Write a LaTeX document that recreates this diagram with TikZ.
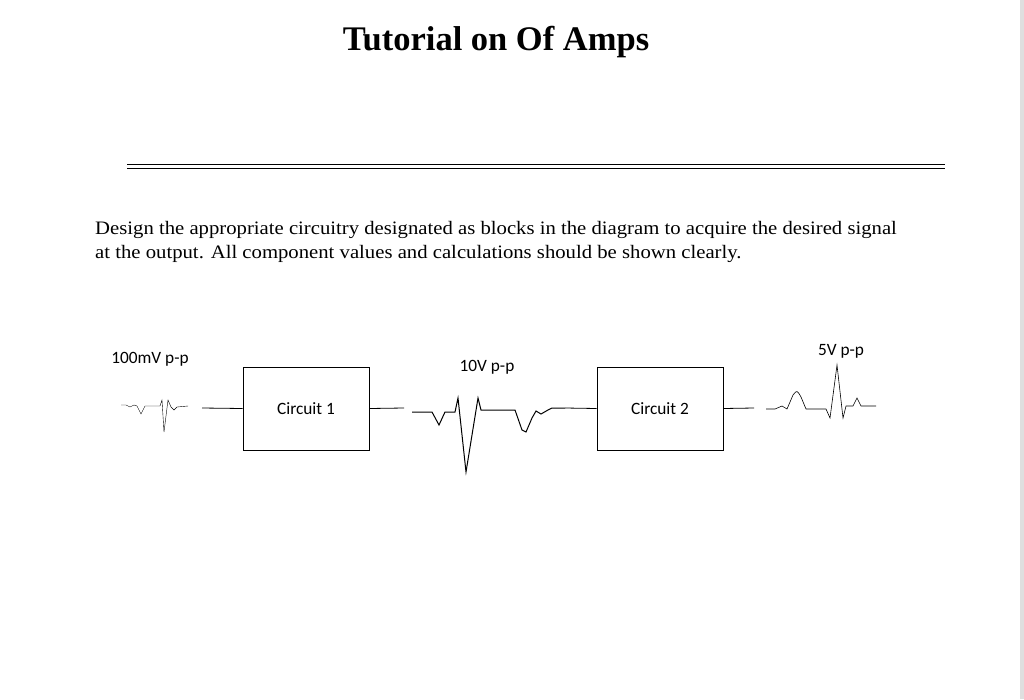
\documentclass[tikz,border=0pt]{standalone}
\usepackage{fontspec}
\setmainfont{Liberation Serif}
\newfontfamily\bodyf[FakeStretch=1.09]{Liberation Serif}
\newfontfamily\lab{Carlito}
\begin{document}
\begin{tikzpicture}[x=1pt,y=-1pt,
  box/.style={draw,line width=0.8pt,minimum width=126pt,minimum height=83pt,inner sep=0pt,font=\lab\fontsize{17.3}{19}\selectfont},
  lbl/.style={font=\lab\fontsize{17.3}{19}\selectfont,inner sep=0pt},
  wire/.style={line width=0.8pt}]
\useasboundingbox (0,0) rectangle (1024,699);
\fill[gray!25] (1020,0) rectangle (1024,699);
\node[font=\bfseries\fontsize{34.5}{38}\selectfont] (title) at (496,42) {Tutorial on Of Amps};
\draw[line width=0.8pt] (127,164) -- (945,164);
\draw[line width=1.8pt] (127,168.5) -- (945,168.5);
\node[anchor=north west,inner sep=0pt,align=left,font=\bodyf\fontsize{19}{24}\selectfont] (body) at (95,221)
 {Design the appropriate circuitry designated as blocks in the diagram to acquire the desired signal\\at the output. All component values and calculations should be shown clearly.};
\node[box] (c1) at (306,408.5) {Circuit 1};
\node[box] (c2) at (660,408.5) {Circuit 2};
\node[lbl] (l1) at (150,359) {100mV p-p};
\node[lbl] (l2) at (487,367) {10V p-p};
\node[lbl] (l3) at (841,351) {5V p-p};
\coordinate (a1) at (202,408); \coordinate (a2) at (404,408);
\coordinate (a3) at (565,408); \coordinate (a4) at (754,408);
\draw[wire] (a1) -- (c1.west);
\draw[wire] (c1.east) -- (a2);
\draw[wire] (a3) -- (c2.west);
\draw[wire] (c2.east) -- (a4);
% input waveform
\draw[line width=0.4pt] (121,405)--(126,405)--(130,407)--(134,405)--(137,406)--(141,414)--(145,406)--(160,406)--(162,400)--(164,432)--(168,400)--(171,407)--(174,410)--(177,407)--(188,406);
% middle waveform
\draw[line width=1pt] (412,412)--(432,412)--(439,425)--(445,412)--(455,412)--(458,398)--(466,472)--(478,398)--(481,410)--(515,410)--(522,430)--(526,432)--(532,418)--(536,411)--(541,414)--(548,410)--(552,408)--(565,408);
% output waveform
\draw[line width=0.6pt] (766,409)--(775,409)--(782,406)--(787,409)--(793,395) .. controls (797,390) .. (801,397)--(806,409)--(826,409)--(830,418)--(837,365)--(843,418)--(846,406)--(853,406)--(857,398)--(861,406)--(876,406);
\end{tikzpicture}
\end{document}
